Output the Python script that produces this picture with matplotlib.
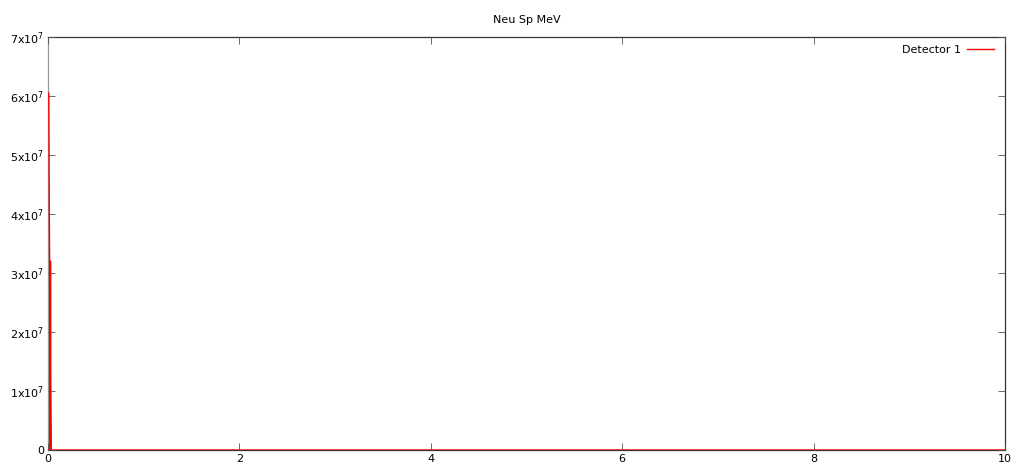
import numpy as np
import matplotlib.pyplot as plt
from matplotlib.ticker import FuncFormatter

# spectrum: energy (MeV) vs counts, spike near zero then flat
energy = [0.008, 0.011, 0.014, 0.017, 0.020, 0.023, 0.026, 0.029, 0.032, 0.035, 0.038, 0.042, 0.05, 1.0, 2.0, 5.0, 10.0]
counts = [6.05e7, 5.1e7, 3.95e7, 3.2e7, 1.2e7, 0.0, 3.2e7, 1.2e7, 0.6e7, 0.0, 0.0, 0.0, 0.0, 0.0, 0.0, 0.0, 0.0]
series_label = 'Detector 1'
chart_title = 'Neu Sp MeV'


def fmt_y(v, pos):
    if v == 0:
        return '0'
    return r'%dx10$^{7}$' % round(v / 1e7)


def main():
    plt.rcParams['font.family'] = ['DejaVu Sans']
    plt.rcParams['mathtext.default'] = 'regular'
    fig = plt.figure(figsize=(10.24, 4.75), dpi=100)
    ax = fig.add_axes([48 / 1024, 1 - 450 / 475, (1005 - 48) / 1024, (450 - 37) / 475])

    ax.plot(energy, counts, color='#ff0000', lw=1.0, label=series_label, zorder=5)

    ax.set_xlim(0, 10)
    ax.set_ylim(0, 7e7)
    ax.set_xticks(np.arange(0, 11, 2))
    ax.set_yticks(np.arange(0, 7.1e7, 1e7))
    ax.yaxis.set_major_formatter(FuncFormatter(fmt_y))
    ax.tick_params(direction='in', length=5, width=0.6, top=True, right=True,
                   labelsize=8, color='#555555', pad=3)
    for s in ax.spines.values():
        s.set_linewidth(0.9)
        s.set_color('#333333')
        s.set_zorder(1)
    ax.spines['left'].set_color('#999999')

    ax.set_title(chart_title, fontsize=8, pad=10)
    ax.legend(loc='upper right', bbox_to_anchor=(1.0, 1.008), frameon=False,
              markerfirst=False, fontsize=8, handlelength=2.4, handletextpad=0.6,
              borderaxespad=0.6)

    plt.savefig('out.png', dpi=100)
    plt.close()


if __name__ == '__main__':
    main()
